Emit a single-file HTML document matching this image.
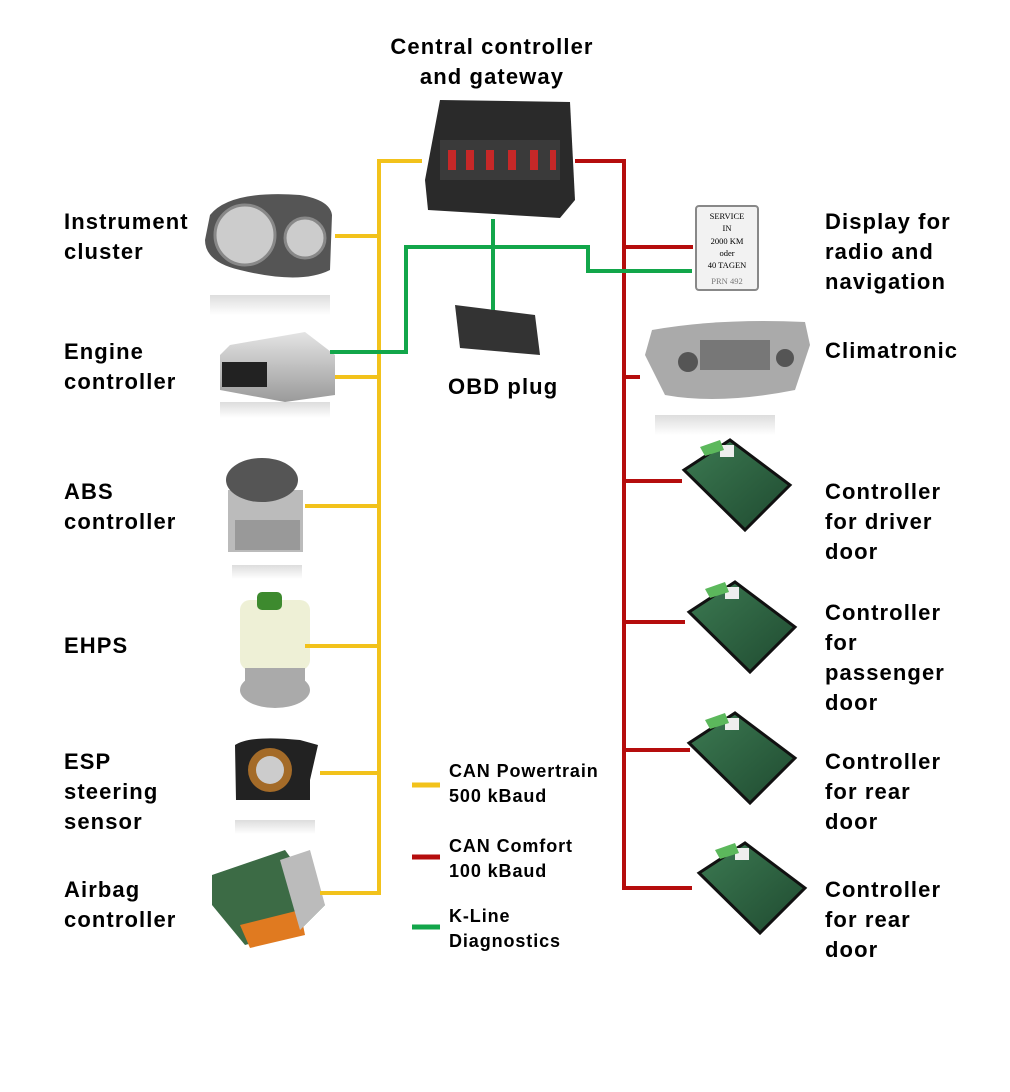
<!DOCTYPE html>
<html><head><meta charset="utf-8"><style>
html,body{margin:0;padding:0;background:#fff}
body{width:1010px;height:1092px;position:relative;overflow:hidden;font-family:"Liberation Sans",Arial,sans-serif}
.t{position:absolute;font-weight:bold;font-size:22px;line-height:30px;color:#000;letter-spacing:1.1px}
.l{position:absolute;font-weight:bold;font-size:18px;line-height:25px;color:#000;letter-spacing:0.9px}
svg{position:absolute;left:0;top:0}
</style></head><body>
<svg width="1010" height="1092">
<defs>
<linearGradient id="pcb" x1="0" y1="0" x2="1" y2="1"><stop offset="0" stop-color="#3c7a52"/><stop offset="1" stop-color="#1f4a30"/></linearGradient>
<linearGradient id="silver" x1="0" y1="0" x2="0" y2="1"><stop offset="0" stop-color="#e4e4e4"/><stop offset="1" stop-color="#9a9a9a"/></linearGradient>
<linearGradient id="refl" x1="0" y1="0" x2="0" y2="1"><stop offset="0" stop-color="#ddd"/><stop offset="1" stop-color="#fff"/></linearGradient>
</defs>
<!-- gateway -->
<polygon points="440,100 570,102 575,200 560,218 428,210 425,180" fill="#2a2a2a"/>
<rect x="440" y="140" width="120" height="40" fill="#3a3a3a"/>
<g fill="#c62828"><rect x="448" y="150" width="8" height="20"/><rect x="466" y="150" width="8" height="20"/><rect x="486" y="150" width="8" height="20"/><rect x="508" y="150" width="8" height="20"/><rect x="530" y="150" width="8" height="20"/><rect x="550" y="150" width="6" height="20"/></g>
<!-- instrument cluster -->
<path d="M210,215 Q230,190 300,195 Q330,200 332,215 L330,270 Q300,285 240,270 Q205,262 205,240 Z" fill="#555"/>
<circle cx="245" cy="235" r="30" fill="#ccc" stroke="#888" stroke-width="3"/>
<circle cx="305" cy="238" r="20" fill="#ccc" stroke="#888" stroke-width="3"/>
<rect x="210" y="295" width="120" height="20" fill="url(#refl)"/>
<!-- engine controller -->
<polygon points="230,345 305,332 335,355 335,395 285,402 220,390 220,355" fill="url(#silver)"/>
<rect x="222" y="362" width="45" height="25" fill="#222"/>
<rect x="220" y="402" width="110" height="16" fill="url(#refl)"/>
<!-- ABS -->
<rect x="228" y="490" width="75" height="62" fill="#bbb"/>
<ellipse cx="262" cy="480" rx="36" ry="22" fill="#555"/>
<rect x="235" y="520" width="65" height="30" fill="#999"/>
<rect x="232" y="565" width="70" height="14" fill="url(#refl)"/>
<!-- EHPS -->
<rect x="240" y="600" width="70" height="70" rx="10" fill="#eef0d6"/>
<rect x="257" y="592" width="25" height="18" rx="5" fill="#3d8a2e"/>
<ellipse cx="275" cy="690" rx="35" ry="18" fill="#aaa"/>
<rect x="245" y="668" width="60" height="25" fill="#aaa"/>
<!-- ESP -->
<path d="M235,745 Q250,735 300,740 L318,745 L310,780 L310,800 L236,800 Z" fill="#222"/>
<circle cx="270" cy="770" r="22" fill="#a46b28"/>
<circle cx="270" cy="770" r="14" fill="#ccc"/>
<rect x="235" y="820" width="80" height="14" fill="url(#refl)"/>
<!-- airbag -->
<polygon points="212,875 285,850 325,905 300,930 245,945 212,905" fill="#3c6b45"/>
<polygon points="240,925 300,910 305,935 250,948" fill="#e07a20"/>
<polygon points="280,860 310,850 325,905 300,930" fill="#bbb"/>
<!-- OBD -->
<polygon points="455,305 535,315 540,355 460,348" fill="#333"/>
<!-- display -->
<rect x="696" y="206" width="62" height="84" rx="3" fill="#f2f2f2" stroke="#888" stroke-width="2"/>
<g font-family="Liberation Serif,serif" font-size="8.5" text-anchor="middle" fill="#000">
<text x="727" y="219">SERVICE</text><text x="727" y="231">IN</text><text x="727" y="244">2000 KM</text><text x="727" y="256">oder</text><text x="727" y="268">40 TAGEN</text><text x="727" y="284" fill="#777">PRN 492</text></g>
<!-- climatronic -->
<path d="M652,330 Q720,318 805,322 L810,345 L795,390 Q720,405 665,395 L645,355 Z" fill="#aaa"/>
<rect x="700" y="340" width="70" height="30" fill="#777"/>
<circle cx="688" cy="362" r="10" fill="#555"/><circle cx="785" cy="358" r="9" fill="#555"/>
<rect x="655" y="415" width="120" height="20" fill="url(#refl)"/>
<!-- door controllers -->
<g id="d"><polygon points="684,470 730,440 790,485 745,530" fill="url(#pcb)" stroke="#111" stroke-width="3"/><rect x="720" y="445" width="14" height="12" fill="#eee"/><polygon points="700,447 720,440 724,450 705,456" fill="#5cb85c"/></g>
<use href="#d" transform="translate(5,142)"/>
<use href="#d" transform="translate(5,273)"/>
<use href="#d" transform="translate(15,403)"/>
<!-- lines -->
<g fill="none" stroke-width="4" stroke-linecap="butt">
<g stroke="#f2c21b">
<path d="M379,159 V895"/><path d="M377,161 H422"/>
<path d="M335,236 H379"/><path d="M335,377 H379"/><path d="M305,506 H379"/><path d="M305,646 H379"/><path d="M320,773 H379"/><path d="M320,893 H379"/>
</g>
<g stroke="#b50d0d">
<path d="M624,159 V890"/><path d="M575,161 H626"/>
<path d="M624,247 H693"/><path d="M624,377 H640"/><path d="M624,481 H682"/><path d="M624,622 H685"/><path d="M624,750 H690"/><path d="M624,888 H692"/>
</g>
<g stroke="#12a64a">
<path d="M493,219 V310"/>
<path d="M330,352 H406 V247 H588 V271 H692"/>
</g>
<path d="M412,785 H440" stroke="#f2c21b" stroke-width="5"/>
<path d="M412,857 H440" stroke="#b50d0d" stroke-width="5"/>
<path d="M412,927 H440" stroke="#12a64a" stroke-width="5"/>
</g>
</svg>
<div class="t" style="left:362px;top:32px;width:260px;text-align:center">Central controller<br>and gateway</div>
<div class="t" style="left:448px;top:372px">OBD plug</div>
<div class="t" style="left:64px;top:207px">Instrument<br>cluster</div>
<div class="t" style="left:64px;top:337px">Engine<br>controller</div>
<div class="t" style="left:64px;top:477px">ABS<br>controller</div>
<div class="t" style="left:64px;top:631px">EHPS</div>
<div class="t" style="left:64px;top:747px">ESP<br>steering<br>sensor</div>
<div class="t" style="left:64px;top:875px">Airbag<br>controller</div>
<div class="t" style="left:825px;top:207px">Display for<br>radio and<br>navigation</div>
<div class="t" style="left:825px;top:336px">Climatronic</div>
<div class="t" style="left:825px;top:477px">Controller<br>for driver<br>door</div>
<div class="t" style="left:825px;top:598px">Controller<br>for<br>passenger<br>door</div>
<div class="t" style="left:825px;top:747px">Controller<br>for rear<br>door</div>
<div class="t" style="left:825px;top:875px">Controller<br>for rear<br>door</div>
<div class="l" style="left:449px;top:759px">CAN Powertrain<br>500 kBaud</div>
<div class="l" style="left:449px;top:834px">CAN Comfort<br>100 kBaud</div>
<div class="l" style="left:449px;top:904px">K-Line<br>Diagnostics</div>
</body></html>
